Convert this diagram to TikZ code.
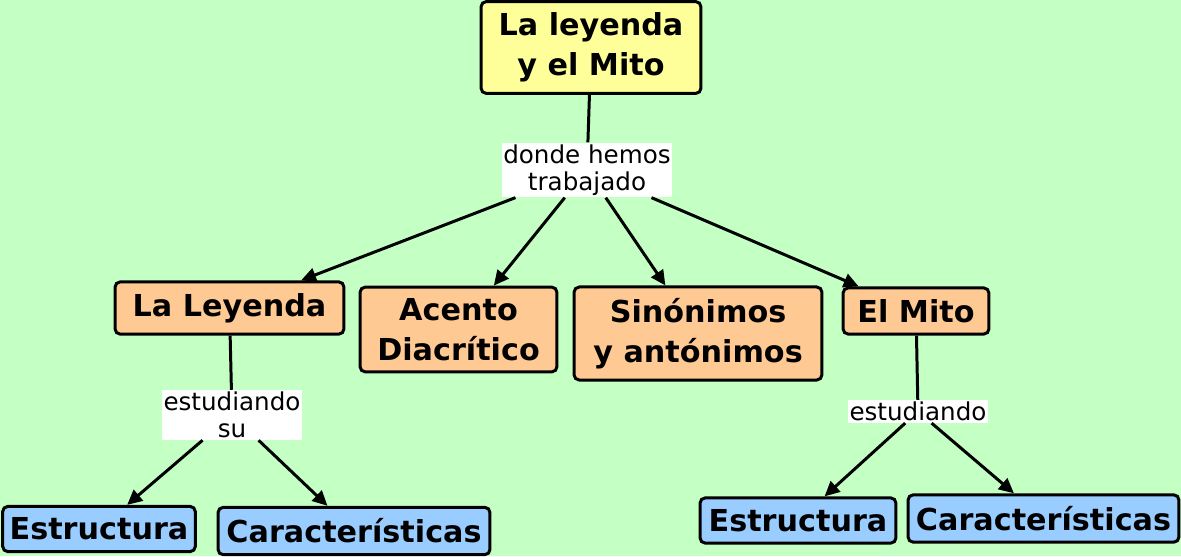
\documentclass[tikz,border=0pt]{standalone}
\usepackage{fontspec}
\setmainfont{DejaVu Sans}
\usetikzlibrary{arrows.meta, positioning}
\definecolor{mapbg}{RGB}{196,255,196}
\definecolor{rootfill}{RGB}{255,255,153}
\definecolor{topicfill}{RGB}{255,201,148}
\definecolor{leaffill}{RGB}{153,204,255}
\tikzset{
	conceptbox/.style={draw=black, line width=1.7pt, rounded corners=3pt, align=center,
		font=\fontsize{17.2}{22.5}\selectfont\bfseries, inner xsep=4pt, inner ysep=6.5pt},
	rootbox/.style={conceptbox, fill=rootfill},
	topicbox/.style={conceptbox, fill=topicfill},
	leafbox/.style={conceptbox, fill=leaffill, inner ysep=6.5pt},
	linklabel/.style={fill=white, align=center, inner xsep=1pt, inner ysep=1pt,
		font=\fontsize{14}{15.5}\selectfont},
	link/.style={line width=1.7pt},
	linkarrow/.style={link, -{Triangle[length=8.5pt,width=8pt]}}
}
\begin{document}
\begin{tikzpicture}[x=0.02cm, y=-0.02cm]
		\fill[mapbg] (0,0) rectangle (1181,556);
		\useasboundingbox (0,0) rectangle (1181,556);
		
		\node[rootbox, minimum width=4.4cm]		(root) at (591,47.5)	{La leyenda\\y el Mito};
		\node[linklabel]	(trabajado) at (587,170) {donde hemos\\trabajado};
		
		\node[topicbox, minimum width=4.58cm]	(leyenda) at (229.5,308)	{La Leyenda};
		\node[topicbox, minimum width=3.94cm]	(acento) at (458.5,329.5)	{Acento\\Diacrítico};
		\node[topicbox, minimum width=4.96cm]	(sinonimos) at (698,333.5) {Sinónimos\\y antónimos};
		\node[topicbox, minimum width=2.92cm]	(mito) at (916,311)	{El Mito};
		
		\node[linklabel]	(estudiando su) at (232,415) {estudiando\\su};
		\node[leafbox, minimum width=3.84cm]	(estructura l) at (99,529)	{Estructura};
		\node[leafbox, minimum width=5.44cm]	(caract l) at (354,531)	{Características};
		
		\node[linklabel]	(estudiando) at (918,411.5) {estudiando};
		\node[leafbox, minimum width=3.92cm]	(estructura r) at (798,520.5) {Estructura};
		\node[leafbox, minimum width=5.42cm]	(caract r) at (1043.5,518.5) {Características};
		
		\draw[link] (root) -- (trabajado);
		\draw[linkarrow] (trabajado) -- (leyenda);
		\draw[linkarrow] (trabajado) -- (acento);
		\draw[linkarrow] (trabajado) -- (sinonimos);
		\draw[linkarrow] (trabajado) -- (mito);
		
		\draw[link] (leyenda) -- (estudiando su);
		\draw[linkarrow] (estudiando su) -- (estructura l);
		\draw[linkarrow] (estudiando su) -- (caract l);
		
		\draw[link] (mito) -- (estudiando);
		\draw[linkarrow] (estudiando) -- (estructura r);
		\draw[linkarrow] (estudiando) -- (caract r);
		
		\end{tikzpicture}
\end{document}
